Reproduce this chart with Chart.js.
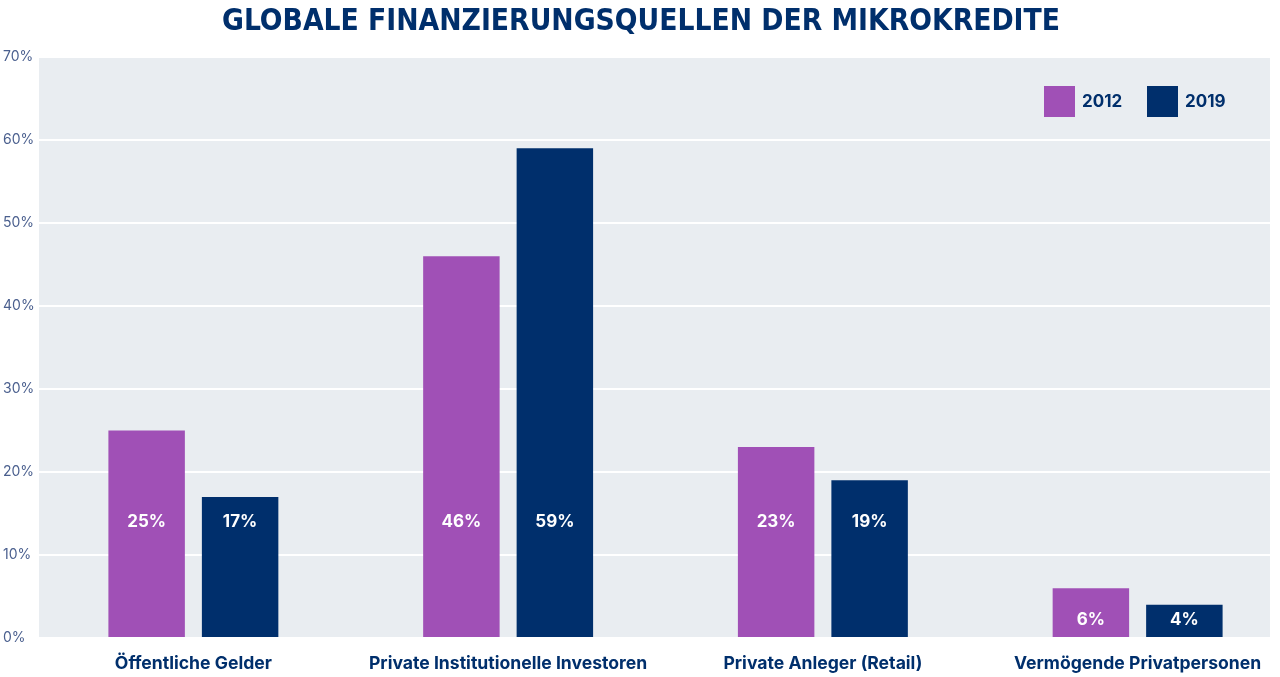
<!DOCTYPE html>
<html>
<head>
<meta charset="utf-8">
<script src="https://cdn.jsdelivr.net/npm/chart.js@4"></script>
<style>
  body { margin: 0; background: #fff; }
  #frame { width: 1280px; height: 677px; overflow: hidden; }
  /* the category scale runs a little past the right edge of the page */
  #wrap { width: 1295px; height: 677px; position: relative; }
</style>
</head>
<body>
<div id="frame"><div id="wrap"><canvas id="chart"></canvas></div></div>
<script>
// data
const categories = ['Öffentliche Gelder', 'Private Institutionelle Investoren', 'Private Anleger (Retail)', 'Vermögende Privatpersonen'];
const years = ['2012', '2019'];
const values2012 = [25, 46, 23, 6];
const values2019 = [17, 59, 19, 4];
const chartTitle = 'GLOBALE FINANZIERUNGSQUELLEN DER MIKROKREDITE';

const NAVY = '#002f6c';
const PURPLE = '#a050b6';

/* plot background (grey panel stops before the scale's right end) */
const plotBg = {
  id: 'plotBg',
  beforeDraw(chart) {
    const { ctx, chartArea: a } = chart;
    ctx.save();
    ctx.fillStyle = '#e9edf1';
    ctx.fillRect(a.left + 3, a.top, 1270 - (a.left + 3), a.bottom - a.top);
    ctx.restore();
  }
};

/* condensed bold title */
const titleText = {
  id: 'titleText',
  afterDraw(chart) {
    const { ctx } = chart;
    ctx.save();
    ctx.font = 'bold 31px "DejaVu Sans Condensed", "DejaVu Sans", sans-serif';
    ctx.fillStyle = NAVY;
    ctx.textBaseline = 'alphabetic';
    const w = ctx.measureText(chartTitle).width;
    ctx.translate(641, 30);
    ctx.scale(838 / w, 1);
    ctx.textAlign = 'center';
    ctx.fillText(chartTitle, 0, 0);
    ctx.restore();
  }
};

/* white value labels inside bars */
const barLabels = {
  id: 'barLabels',
  afterDatasetsDraw(chart) {
    const { ctx } = chart;
    const y = chart.scales.y;
    ctx.save();
    ctx.fillStyle = '#fff';
    ctx.font = 'bold 17px Inter, Roboto, sans-serif';
    ctx.textAlign = 'center';
    ctx.textBaseline = 'middle';
    chart.data.datasets.forEach((ds, i) => {
      chart.getDatasetMeta(i).data.forEach((bar, j) => {
        const v = ds.data[j];
        const py = y.getPixelForValue(v >= 10 ? 14 : 2.2);
        ctx.fillText(v + '%', bar.x, py);
      });
    });
    ctx.restore();
  }
};

/* legend top right inside plot */
const boxLegend = {
  id: 'boxLegend',
  afterDraw(chart) {
    const { ctx, chartArea: a } = chart;
    ctx.save();
    ctx.font = 'bold 17px Inter, Roboto, sans-serif';
    ctx.textBaseline = 'middle';
    let x = 1044;
    const top = a.top + 29;
    chart.data.datasets.forEach(ds => {
      ctx.fillStyle = ds.backgroundColor;
      ctx.fillRect(x, top, 31, 31);
      ctx.fillStyle = NAVY;
      ctx.fillText(ds.label, x + 38, top + 16);
      x += 103;
    });
    ctx.restore();
  }
};

new Chart(document.getElementById('chart'), {
  type: 'bar',
  data: {
    labels: categories,
    datasets: [
      { label: years[0], data: values2012, backgroundColor: PURPLE },
      { label: years[1], data: values2019, backgroundColor: NAVY }
    ]
  },
  options: {
    responsive: true,
    maintainAspectRatio: false,
    animation: false,
    layout: { padding: { left: 3, right: 0, top: 57, bottom: 0 } },
    datasets: { bar: { categoryPercentage: 0.594, barPercentage: 0.818 } },
    plugins: {
      legend: { display: false },
      tooltip: { enabled: false },
      title: { display: false }
    },
    scales: {
      x: {
        grid: { display: false },
        border: { display: false },
        ticks: {
          color: NAVY,
          padding: 7,
          font: { family: 'Inter, Roboto, sans-serif', size: 17.6, weight: 'bold' }
        },
        afterFit(s) { s.height = 39; }
      },
      y: {
        min: 0,
        max: 70,
        grid: { color: '#fff', lineWidth: 2, drawTicks: false },
        border: { display: false },
        ticks: {
          stepSize: 10,
          color: '#4a5f8e',
          crossAlign: 'far',
          padding: 4,
          font: { family: 'Inter, Roboto, sans-serif', size: 14 },
          callback: v => v + '%'
        },
        afterFit(s) { s.width = 33; }
      }
    }
  },
  plugins: [plotBg, titleText, barLabels, boxLegend]
});
</script>
</body>
</html>
